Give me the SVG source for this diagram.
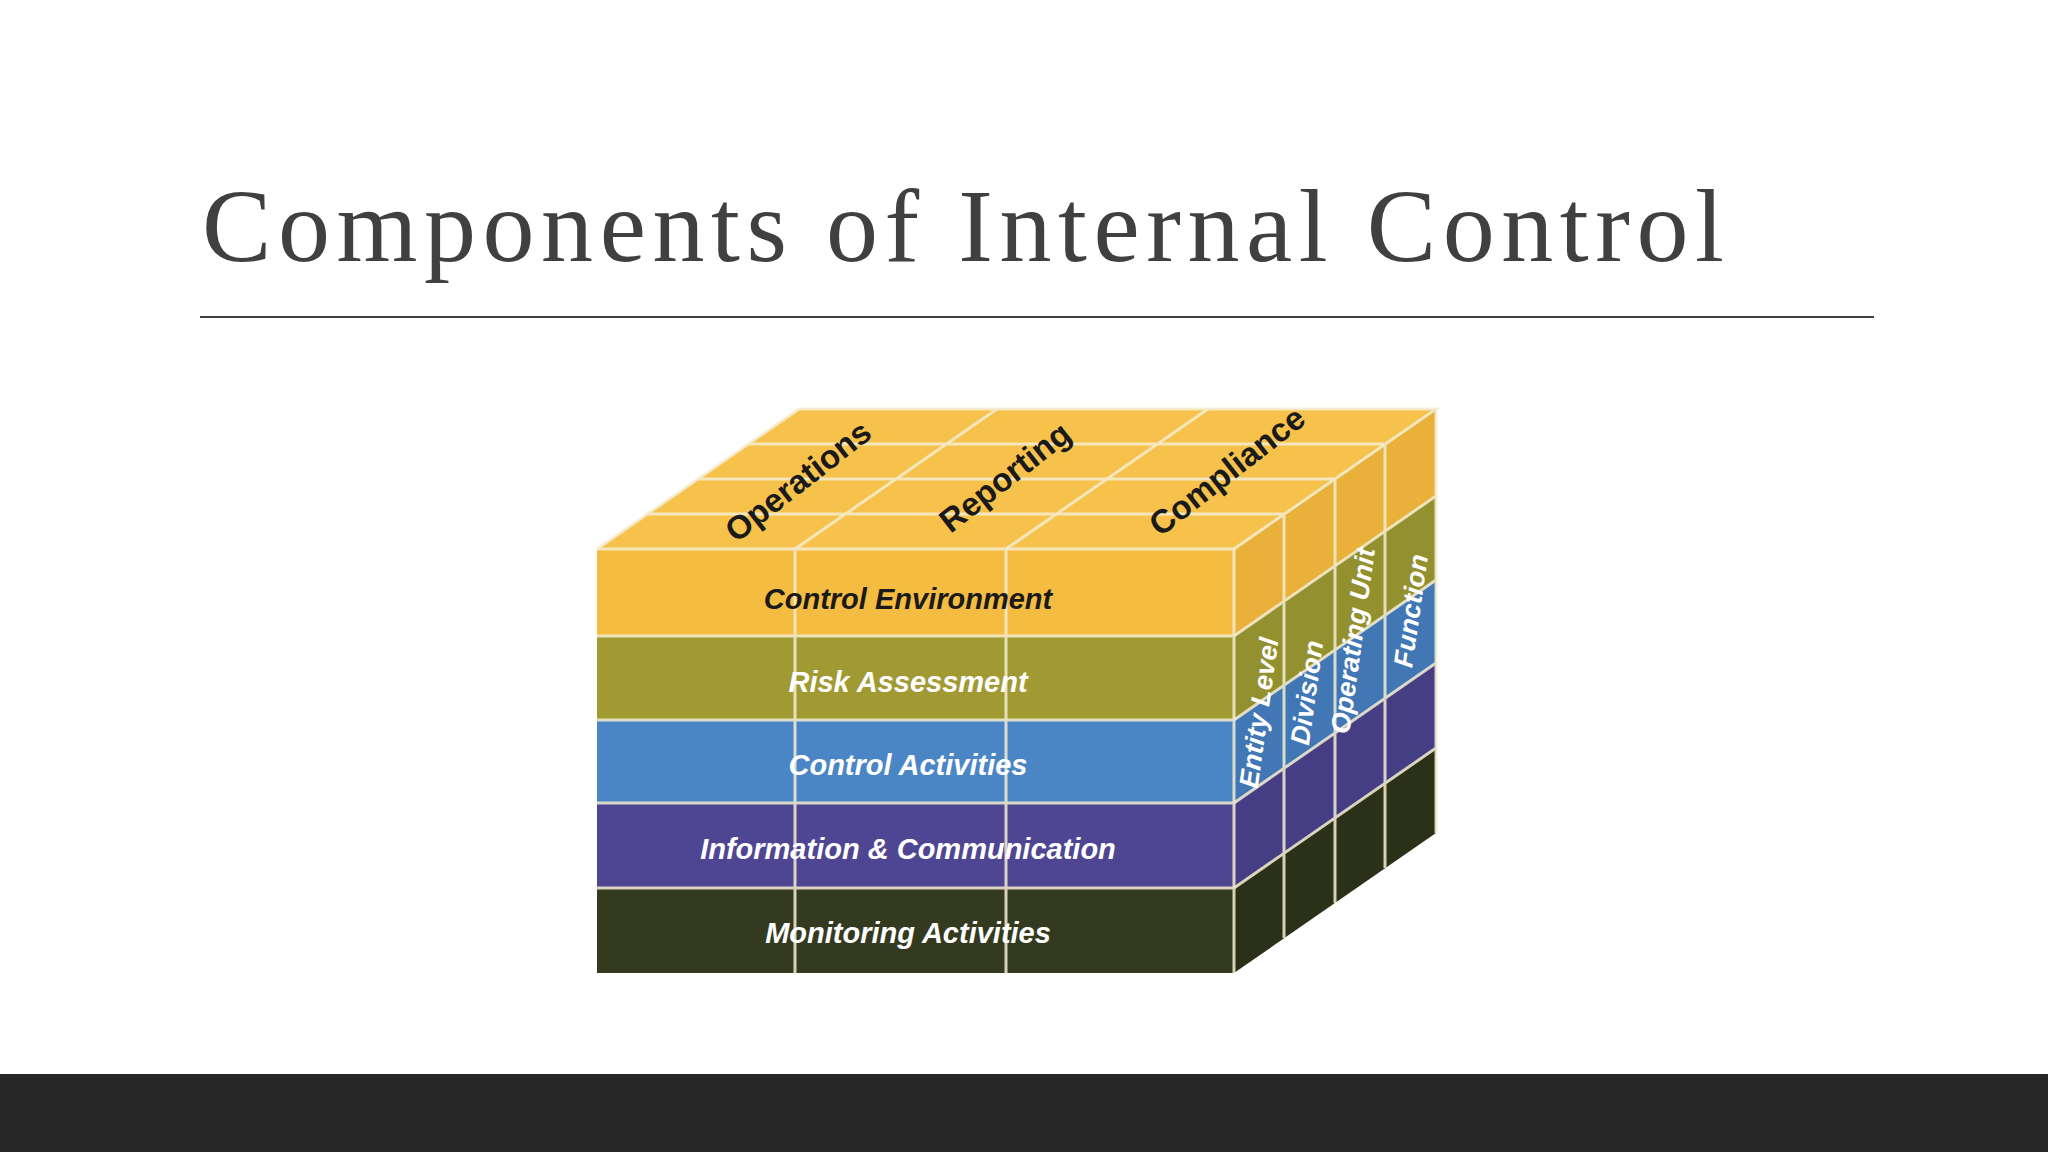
<svg xmlns="http://www.w3.org/2000/svg" width="2048" height="1152" viewBox="0 0 2048 1152">
<style>
.g{stroke:#f4ecd0;stroke-width:3;fill:none;opacity:0.85}
.fl{font-family:"Liberation Sans",Arial,sans-serif;font-weight:bold;font-style:italic;font-size:29px;text-anchor:middle;fill:#ffffff}
.tl{font-family:"Liberation Sans",Arial,sans-serif;font-weight:bold;font-size:33px;text-anchor:middle;fill:#1a1a1a}
.sl{font-family:"Liberation Sans",Arial,sans-serif;font-weight:bold;font-style:italic;font-size:27px;text-anchor:middle;fill:#ffffff}
</style>
<rect width="2048" height="1152" fill="#ffffff"/>
<text x="202" y="261" font-family="Liberation Serif,serif" font-size="104" fill="#404040" textLength="1522">Components of Internal Control</text>
<line x1="200" y1="317" x2="1874" y2="317" stroke="#404040" stroke-width="2"/>
<rect x="0" y="1074" width="2048" height="78" fill="#262626"/>
<g id="cube">
<polygon points="597,549 799,409 1436,409 1234,549" fill="#F6C24C"/>
<rect x="597" y="549" width="637" height="87" fill="#F5BC42"/>
<rect x="597" y="636" width="637" height="84" fill="#A19A33"/>
<rect x="597" y="720" width="637" height="83" fill="#4A86C5"/>
<rect x="597" y="803" width="637" height="85" fill="#4F4693"/>
<rect x="597" y="888" width="637" height="85" fill="#343A20"/>
<polygon points="1234,549 1436,409 1436,496 1234,636" fill="#E9B03A"/>
<polygon points="1234,636 1436,496 1436,580 1234,720" fill="#939030"/>
<polygon points="1234,720 1436,580 1436,663 1234,803" fill="#4177B5"/>
<polygon points="1234,803 1436,663 1436,748 1234,888" fill="#463E85"/>
<polygon points="1234,888 1436,748 1436,833 1234,973" fill="#2B3019"/>
<path class="g" d="M597,549H1234V973M597,636H1234M597,720H1234M597,803H1234M597,888H1234M795,549V973M1006,549V973"/>
<path class="g" d="M597,549L799,409H1436L1234,549M795,549L997,409M1006,549L1208,409M647,514H1285M698,479H1335M748,444H1386M1234,636L1436,496M1234,720L1436,580M1234,803L1436,663M1234,888L1436,748M1284,514V938M1335,479V903M1385,444V868M1436,409V833"/>
<text class="fl" x="908" y="609" fill="#1a1a1a" style="fill:#1a1a1a">Control Environment</text>
<text class="fl" x="908" y="692">Risk Assessment</text>
<text class="fl" x="908" y="775">Control Activities</text>
<text class="fl" x="908" y="859">Information &amp; Communication</text>
<text class="fl" x="908" y="943">Monitoring Activities</text>
<text class="tl" transform="translate(805,490) rotate(-38)">Operations</text>
<text class="tl" transform="translate(1012,486) rotate(-38)">Reporting</text>
<text class="tl" transform="translate(1234,480) rotate(-38)">Compliance</text>
<text class="sl" transform="translate(1268,714) rotate(-82)">Entity Level</text>
<text class="sl" transform="translate(1316,694) rotate(-82)">Division</text>
<text class="sl" transform="translate(1362,642) rotate(-82)">Operating Unit</text>
<text class="sl" transform="translate(1420,612) rotate(-82)">Function</text>
</g>
</svg>
